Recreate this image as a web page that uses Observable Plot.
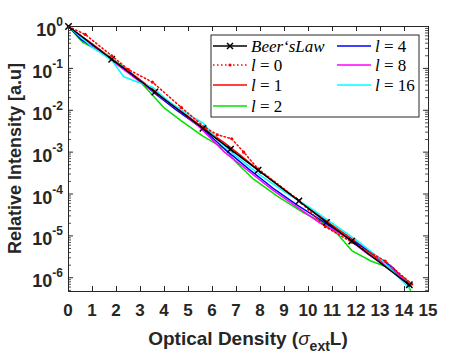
<!DOCTYPE html>
<html>
<head>
<meta charset="utf-8">
<script src="https://cdn.jsdelivr.net/npm/d3@7"></script>
<script src="https://cdn.jsdelivr.net/npm/@observablehq/plot@0.6"></script>
<style>
  html, body { margin: 0; padding: 0; background: #fff; }
</style>
</head>
<body>
<div id="chart"></div>
<script>
// ---- Data ----
const xTicks = [0, 1, 2, 3, 4, 5, 6, 7, 8, 9, 10, 11, 12, 13, 14, 15];
const xTickLabels = ["0","1","2","3","4","5","6","7","8","9","10","11","12","13","14","15"];
const yTicks = [1, 1e-1, 1e-2, 1e-3, 1e-4, 1e-5, 1e-6];
const yTickExponents = ["0", "-1", "-2", "-3", "-4", "-5", "-6"];
const yMinorMantissas = [2, 3, 4, 5, 6, 7, 8, 9];
const yMinorDecades = [1e-7, 1e-6, 1e-5, 1e-4, 1e-3, 1e-2, 1e-1];

const seriesNames = ["Beer‘sLaw", "l = 0", "l = 1", "l = 2", "l = 4", "l = 8", "l = 16"];
const seriesColors = ["#000000", "#ff0000", "#ff0000", "#00e000", "#0000ff", "#ff00ff", "#00ffff"];

const odBeer = [0, 1.8, 3.6, 5.6, 6.75, 7.9, 9.6, 10.75, 11.8, 14.2];
const iBeer  = [1, 0.165, 0.0273, 3.7e-3, 1.17e-3, 3.7e-4, 6.8e-5, 2.1e-5, 7.5e-6, 6.8e-7];

const odL0 = [0, 0.7, 1.8, 2.5, 3.5, 4.7, 5.7, 6.2, 6.8, 7.3, 7.9, 9.6, 10.7, 11.8, 13.2, 14.3];
const iL0  = [1, 0.646, 0.2, 0.0933, 0.0468, 0.0117, 3.8e-3, 2.6e-3, 2.09e-3, 1.0e-3, 3.98e-4, 7.08e-5, 1.66e-5, 7.08e-6, 2.51e-6, 7.08e-7];

const odL1 = [0, 1, 2, 3, 4, 5, 5.8, 6.5, 7, 8, 9, 10, 11, 12, 13, 14.2];
const iL1  = [1, 0.38, 0.141, 0.0525, 0.019, 7.1e-3, 3.16e-3, 1.66e-3, 1e-3, 3.4e-4, 1.26e-4, 4.7e-5, 1.78e-5, 7.1e-6, 2.5e-6, 7.9e-7];

const odL2 = [0, 0.6, 1.5, 2.5, 3.2, 4, 4.7, 5.6, 6.5, 7, 7.7, 8.7, 9.8, 10.5, 11.2, 11.8, 12.6, 13.3, 14, 14.25];
const iL2  = [1, 0.417, 0.224, 0.0891, 0.0355, 0.0112, 5.6e-3, 2.4e-3, 1.2e-3, 5.6e-4, 2.29e-4, 8.9e-5, 3.55e-5, 2.24e-5, 1.12e-5, 4.47e-6, 2.51e-6, 1.78e-6, 1e-6, 5e-7];

const odL4 = [0, 0.5, 1.5, 2.5, 3.6, 4.5, 5.5, 6.5, 7.5, 8.5, 9.5, 10.5, 11.5, 12.5, 13.5, 14.2];
const iL4  = [1, 0.5, 0.214, 0.0851, 0.0251, 0.01, 3.98e-3, 1.2e-3, 3.98e-4, 1.41e-4, 5.6e-5, 2.4e-5, 1e-5, 4.47e-6, 1.78e-6, 6.3e-7];

const odL8 = [0, 1, 2, 3, 4.5, 5.5, 6.5, 7.5, 8.5, 9.5, 10.5, 11.5, 12.5, 13.5, 14.2];
const iL8  = [1, 0.355, 0.126, 0.0468, 0.0112, 3.8e-3, 1e-3, 3.55e-4, 1.26e-4, 5e-5, 2e-5, 1e-5, 3.55e-6, 1.58e-6, 7.1e-7];

const odL16 = [0, 1, 1.8, 2.3, 2.9, 3.5, 4.2, 5, 5.6, 6.2, 7, 8, 9, 10, 11, 12, 13, 14.2];
const iL16  = [1, 0.316, 0.158, 0.0631, 0.0468, 0.0355, 0.0158, 7.9e-3, 5e-3, 2e-3, 7.9e-4, 2.8e-4, 1.12e-4, 5e-5, 2e-5, 7.9e-6, 2.8e-6, 5.6e-7];

// ---- Build tables ----
const seriesOD = [odBeer, odL0, odL1, odL2, odL4, odL8, odL16];
const seriesI  = [iBeer, iL0, iL1, iL2, iL4, iL8, iL16];
const table = (k) => seriesOD[k].map((x, i) => ({series: seriesNames[k], x, y: seriesI[k][i]}));

const yMinor = yMinorDecades.flatMap(d => yMinorMantissas.map(m => m * d)).filter(v => v >= 4.7e-7 && v < 1);

const W = 474, H = 355, mL = 68, mR = 46, mT = 26, mB = 64;
const innerW = W - mL - mR, innerH = H - mT - mB;
const axisColor = "#262626";
const sansFont = "'Liberation Sans', Arial, sans-serif";

const lineMarks = seriesNames.map((name, k) => Plot.line(table(k), {
  x: "x", y: "y", stroke: seriesColors[k], strokeWidth: 1.5,
  strokeDasharray: k === 1 ? "1.5,2.5" : null
}));

const svg = Plot.plot({
  width: W, height: H,
  marginLeft: mL, marginRight: mR, marginTop: mT, marginBottom: mB,
  x: {domain: [0, 15], axis: null},
  y: {type: "log", domain: [4.7e-7, 1], axis: null},
  style: {fontFamily: sansFont, color: axisColor, background: "#fff"},
  marks: [
    lineMarks[2], lineMarks[3], lineMarks[4], lineMarks[5], lineMarks[6], lineMarks[1], lineMarks[0],
    Plot.dot(table(1), {x: "x", y: "y", r: 1.6, fill: seriesColors[1], stroke: null}),
    Plot.dot(table(0), {x: "x", y: "y", r: 3, symbol: "times", stroke: seriesColors[0], strokeWidth: 1.5}),
    Plot.frame({stroke: axisColor, strokeWidth: 1}),
    Plot.tickX(xTicks, {x: d => d, insetTop: innerH - 5, stroke: axisColor}),
    Plot.tickX(xTicks, {x: d => d, insetBottom: innerH - 5, stroke: axisColor}),
    Plot.tickY(yTicks, {y: d => d, insetRight: innerW - 5, stroke: axisColor}),
    Plot.tickY(yTicks, {y: d => d, insetLeft: innerW - 5, stroke: axisColor}),
    Plot.tickY(yMinor, {y: d => d, insetRight: innerW - 3, stroke: axisColor, strokeWidth: 0.8}),
    Plot.tickY(yMinor, {y: d => d, insetLeft: innerW - 3, stroke: axisColor, strokeWidth: 0.8})
  ]
});

document.getElementById("chart").appendChild(svg);
const s = d3.select(svg);
const xs = svg.scale("x"), ys = svg.scale("y");

// x tick labels
const gx = s.append("g").attr("font-family", sansFont).attr("font-size", 17)
  .attr("font-weight", "bold").attr("fill", axisColor).attr("text-anchor", "middle");
xTicks.forEach((v, i) => {
  gx.append("text").attr("x", xs.apply(v)).attr("y", mT + innerH + 25).text(xTickLabels[i]);
});

// y tick labels as 10^exp
const gy = s.append("g").attr("font-family", sansFont).attr("font-size", 18)
  .attr("font-weight", "bold").attr("fill", axisColor).attr("text-anchor", "end");
yTicks.forEach((v, i) => {
  const t = gy.append("text").attr("x", mL - 5).attr("y", ys.apply(v) + 10);
  t.append("tspan").text("10");
  t.append("tspan").attr("dy", -10).attr("font-size", 12).text(yTickExponents[i]);
});

// x axis label
const xl = s.append("text")
  .attr("x", mL + innerW / 2).attr("y", 345)
  .attr("text-anchor", "middle")
  .attr("font-size", 19).attr("font-weight", "bold").attr("fill", axisColor)
  .attr("font-family", sansFont);
xl.append("tspan").text("Optical Density (");
xl.append("tspan").attr("font-style", "italic").attr("font-weight", "normal").text("σ");
xl.append("tspan").attr("font-size", 14).attr("dy", 6).text("ext");
xl.append("tspan").attr("dy", -6).text("L)");

// y axis label
s.append("text")
  .attr("transform", `translate(15,${mT + innerH / 2}) rotate(-90)`)
  .attr("text-anchor", "middle").attr("dominant-baseline", "central")
  .attr("font-size", 18).attr("font-weight", "bold").attr("fill", axisColor)
  .attr("font-family", sansFont)
  .text("Relative Intensity [a.u]");

// legend
const lg = s.append("g").attr("font-family", "'Liberation Serif', 'Times New Roman', serif")
  .attr("font-size", 17).attr("text-anchor", "start");
lg.append("rect").attr("x", 211).attr("y", 35).attr("width", 208).attr("height", 82)
  .attr("fill", "#fff").attr("stroke", axisColor).attr("stroke-width", 1);
const legendPos = [
  [213, 46], [213, 65], [213, 85], [213, 106], [337, 46], [337, 65], [337, 85]
];
seriesNames.forEach((name, k) => {
  const [lx, ly] = legendPos[k];
  lg.append("line").attr("x1", lx).attr("x2", lx + 34).attr("y1", ly).attr("y2", ly)
    .attr("stroke", seriesColors[k]).attr("stroke-width", 1.5)
    .attr("stroke-dasharray", k === 1 ? "1.5,2.5" : null);
  if (k === 0) {
    lg.append("path").attr("d", `M${lx+14},${ly-3}L${lx+20},${ly+3}M${lx+14},${ly+3}L${lx+20},${ly-3}`)
      .attr("stroke", "#000").attr("stroke-width", 1.5);
  }
  if (k === 1) {
    lg.append("circle").attr("cx", lx + 17).attr("cy", ly).attr("r", 1.6).attr("fill", seriesColors[1]);
  }
  const t = lg.append("text").attr("x", lx + 38).attr("y", ly).attr("dy", "0.33em").attr("fill", "#000");
  if (k === 0) {
    t.attr("font-style", "italic").text(name);
  } else {
    const parts = name.split(" = ");
    t.append("tspan").attr("font-style", "italic").text(parts[0]);
    t.append("tspan").text(" = " + parts[1]);
  }
});
</script>
</body>
</html>
